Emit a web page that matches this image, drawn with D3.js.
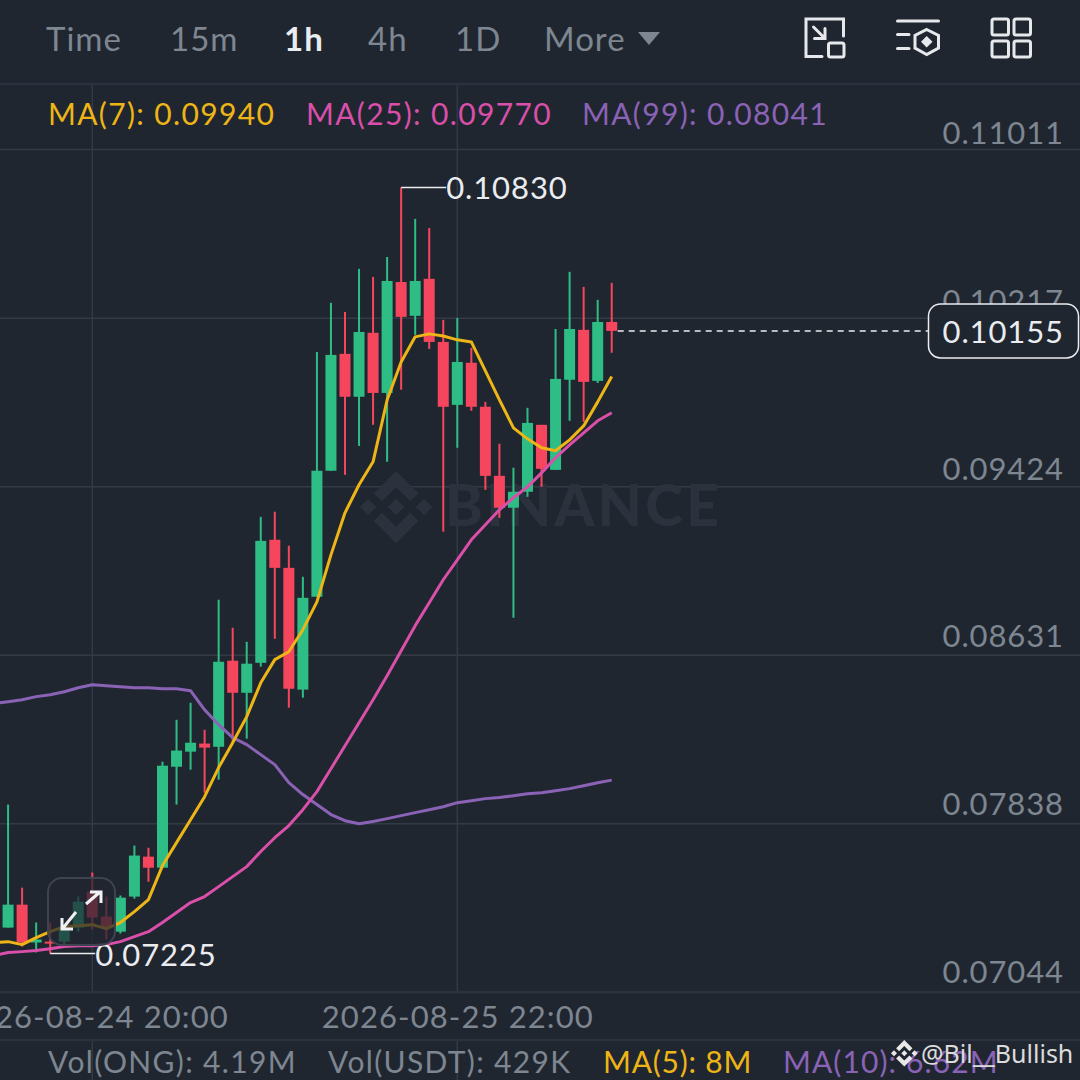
<!DOCTYPE html>
<html>
<head>
<meta charset="utf-8">
<script src="https://cdn.jsdelivr.net/npm/d3@7"></script>
<style>
  html, body { margin: 0; padding: 0; background: #202630; }
  svg { display: block; }
  text { font-family: Lato, "Open Sans", sans-serif; }
</style>
</head>
<body>
<div id="chart"></div>
<script>
// hourly candles, first one 2026-08-24 14:00 UTC
var candleOpen = [0.07347,0.07455,0.07277,0.07281,0.07281,0.07347,0.07516,0.07399,0.07328,0.07493,0.07681,0.07629,0.08104,0.08175,0.08213,0.08198,0.08603,0.08452,0.08593,0.09172,0.09040,0.08467,0.08904,0.09497,0.10047,0.09845,0.10146,0.09863,0.10385,0.10226,0.10400,0.10103,0.09807,0.10005,0.09798,0.09473,0.09323,0.09398,0.09713,0.09501,0.09925,0.10160,0.09920,0.10197];
var candleHigh = [0.07926,0.07535,0.07371,0.07371,0.07350,0.07493,0.07606,0.07493,0.07498,0.07733,0.07723,0.08128,0.08325,0.08405,0.08278,0.08890,0.08758,0.08692,0.09280,0.09304,0.09144,0.08998,0.10056,0.10287,0.10244,0.10447,0.10409,0.10503,0.10830,0.10682,0.10639,0.10207,0.10216,0.10075,0.09821,0.09624,0.09511,0.09793,0.09713,0.10164,0.10433,0.10362,0.10301,0.10381];
var candleLow = [0.07347,0.07258,0.07230,0.07225,0.07267,0.07328,0.07338,0.07291,0.07319,0.07483,0.07563,0.07629,0.07926,0.08090,0.07982,0.08043,0.08222,0.08236,0.08575,0.08706,0.08382,0.08429,0.08904,0.09497,0.09478,0.09614,0.09713,0.09539,0.09878,0.10136,0.10070,0.09210,0.09605,0.09779,0.09407,0.09275,0.08805,0.09374,0.09421,0.09501,0.09732,0.09727,0.09910,0.10052];
var candleClose = [0.07455,0.07277,0.07291,0.07272,0.07347,0.07469,0.07394,0.07347,0.07488,0.07686,0.07629,0.08109,0.08180,0.08217,0.08194,0.08598,0.08452,0.08589,0.09167,0.09040,0.08471,0.08899,0.09497,0.10042,0.09845,0.10150,0.09863,0.10390,0.10221,0.10390,0.10103,0.09798,0.10009,0.09798,0.09473,0.09323,0.09398,0.09722,0.09506,0.09929,0.10164,0.09915,0.10197,0.10155];

// moving averages start one hour before the first candle, so they reach the left edge
var ma7 = [0.07276,0.07281,0.07267,0.07300,0.07328,0.07352,0.07356,0.07361,0.07342,0.07371,0.07422,0.07479,0.07639,0.07747,0.07855,0.07963,0.08100,0.08217,0.08340,0.08499,0.08608,0.08645,0.08749,0.08880,0.09101,0.09299,0.09431,0.09539,0.09830,0.10009,0.10127,0.10141,0.10131,0.10113,0.10103,0.09967,0.09830,0.09699,0.09647,0.09605,0.09591,0.09642,0.09708,0.09821,0.09940];
var ma25 = [0.07215,0.07230,0.07234,0.07239,0.07248,0.07258,0.07262,0.07262,0.07267,0.07281,0.07305,0.07328,0.07371,0.07418,0.07465,0.07493,0.07540,0.07587,0.07634,0.07705,0.07770,0.07827,0.07902,0.07987,0.08095,0.08203,0.08311,0.08419,0.08532,0.08650,0.08768,0.08876,0.08984,0.09078,0.09172,0.09243,0.09313,0.09370,0.09421,0.09487,0.09558,0.09619,0.09675,0.09732,0.09770];
var ma99 = [0.08401,0.08410,0.08419,0.08434,0.08443,0.08457,0.08476,0.08490,0.08485,0.08481,0.08476,0.08476,0.08471,0.08471,0.08462,0.08372,0.08302,0.08241,0.08208,0.08161,0.08114,0.08029,0.07973,0.07926,0.07879,0.07850,0.07836,0.07846,0.07860,0.07874,0.07888,0.07902,0.07916,0.07935,0.07944,0.07954,0.07959,0.07968,0.07977,0.07982,0.07991,0.08001,0.08015,0.08029,0.08041];

var priceTicks = [0.11011, 0.10217, 0.09424, 0.08631, 0.07838, 0.07044];
var timeTicks = [new Date(Date.UTC(2026, 7, 24, 20)), new Date(Date.UTC(2026, 7, 25, 22))];
var intervals = ["Time", "15m", "1h", "4h", "1D", "More"];
var lastPrice = 0.10155;

var svgWidth = 1080;
var svgHeight = 1080;
var chartTop = 84;
var chartBottom = 992;

var green = "#2ebd85";
var red = "#f6465d";
var gold = "#eeb516";
var pink = "#d94fa9";
var purple = "#8a62b6";
var grey = "#7d8691";
var gridColor = "#333a45";
var bg = "#202630";

var svg = d3.select("#chart")
  .append("svg")
  .attr("width", svgWidth)
  .attr("height", svgHeight);

svg.append("rect").attr("width", svgWidth).attr("height", svgHeight).attr("fill", bg);

var t0 = new Date(Date.UTC(2026, 7, 24, 13));
var hours = ma7.map(function(d, i) { return d3.utcHour.offset(t0, i); });

var candles = candleOpen.map(function(d, i) {
  return { time: hours[i + 1], open: d, high: candleHigh[i], low: candleLow[i], close: candleClose[i] };
});

var x = d3.scaleUtc()
  .domain(timeTicks)
  .range([92.3, 457.3]);

var y = d3.scaleLinear()
  .domain([0.07044, 0.11011])
  .range([chartBottom, 149]);

// price labels drift a little from their gridlines in the app
var labelY = d3.scaleLinear()
  .domain([0.07044, 0.11011])
  .range([983, 144]);

// grid
var yAxis = d3.axisRight(y)
  .tickValues(priceTicks)
  .tickFormat(d3.format(".5f"))
  .tickSize(svgWidth);

var yAxisGroup = svg.append("g").call(yAxis);
yAxisGroup.select(".domain").remove();
yAxisGroup.selectAll("line").attr("stroke", gridColor).attr("stroke-width", 1.5);
yAxisGroup.selectAll("text").remove();

var xAxis = d3.axisBottom(x)
  .tickValues(timeTicks)
  .tickFormat(d3.utcFormat("%Y-%m-%d %H:%M"))
  .tickSize(0);

var xAxisGroup = svg.append("g")
  .attr("transform", "translate(0," + chartBottom + ")")
  .call(xAxis);
xAxisGroup.select(".domain").remove();
xAxisGroup.selectAll("text")
  .attr("y", 36)
  .attr("dy", 0)
  .attr("fill", grey)
  .attr("font-size", 31)
  .attr("letter-spacing", 1.1)
  .attr("font-family", "Lato");

timeTicks.forEach(function(t) {
  svg.append("line").attr("x1", x(t)).attr("x2", x(t)).attr("y1", chartTop).attr("y2", chartBottom)
    .attr("stroke", gridColor).attr("stroke-width", 1.5);
  svg.append("line").attr("x1", x(t)).attr("x2", x(t)).attr("y1", 1040).attr("y2", svgHeight)
    .attr("stroke", gridColor).attr("stroke-width", 1.5);
});

// separators
[84, 1040].forEach(function(s) {
  svg.append("line").attr("x1", 0).attr("x2", svgWidth).attr("y1", s).attr("y2", s)
    .attr("stroke", "#2b323d").attr("stroke-width", 2.5);
});
svg.append("line").attr("x1", 0).attr("x2", svgWidth).attr("y1", chartBottom).attr("y2", chartBottom)
  .attr("stroke", "#2b323d").attr("stroke-width", 2.5);

// watermark
var logoPath = "M38.73 53.2l24.59-24.58 24.6 24.6 14.3-14.31L63.32 0 24.43 38.9zM0 63.31l14.3-14.31 14.31 14.31-14.31 14.3zM38.73 73.41L63.32 98l24.6-24.6 14.31 14.29-38.9 38.91-38.91-38.88-.02-.02zM98 63.31l14.3-14.3 14.31 14.3-14.31 14.31zM77.83 63.3L63.32 48.78 52.59 59.51l-1.24 1.23-2.54 2.54 14.51 14.5 14.51-14.47z";

svg.append("path")
  .attr("d", logoPath)
  .attr("transform", "translate(360,471) scale(0.57)")
  .attr("fill", "#2b323d");

svg.append("text")
  .attr("x", 445)
  .attr("y", 526)
  .attr("font-size", 57)
  .attr("font-weight", 900)
  .attr("letter-spacing", 3.4)
  .attr("fill", "#2b323d")
  .text("BINANCE");

// candles
var candle = svg.append("g").selectAll("g")
  .data(candles)
  .enter()
  .append("g");

candle.append("rect")
  .attr("x", function(d) { return x(d.time) - 1; })
  .attr("y", function(d) { return y(d.high); })
  .attr("width", 2)
  .attr("height", function(d) { return y(d.low) - y(d.high); })
  .attr("fill", function(d) { return d.close >= d.open ? green : red; });

candle.append("rect")
  .attr("x", function(d) { return x(d.time) - 5.5; })
  .attr("y", function(d) { return y(Math.max(d.open, d.close)); })
  .attr("width", 11)
  .attr("height", function(d) { return Math.max(2, Math.abs(y(d.open) - y(d.close))); })
  .attr("fill", function(d) { return d.close >= d.open ? green : red; });

// moving averages
var line = d3.line()
  .x(function(d, i) { return x(hours[i]); })
  .y(function(d) { return y(d); });

[[ma99, purple], [ma25, pink], [ma7, gold]].forEach(function(m) {
  svg.append("path")
    .datum(m[0])
    .attr("d", line)
    .attr("fill", "none")
    .attr("stroke", m[1])
    .attr("stroke-width", 3)
    .attr("stroke-linejoin", "round");
});

// high and low markers
var highest = candles[d3.maxIndex(candles, function(d) { return d.high; })];
var lowest = candles[d3.minIndex(candles, function(d) { return d.low; })];

svg.append("path")
  .attr("d", "M" + x(highest.time) + "," + y(highest.high) + "H" + (x(highest.time) + 45))
  .attr("stroke", "#eaecef").attr("stroke-width", 1.5).attr("fill", "none");
svg.append("text")
  .attr("x", x(highest.time) + 45)
  .attr("y", y(highest.high) + 12)
  .attr("font-size", 31)
  .attr("letter-spacing", 0.9)
  .attr("fill", "#eaecef")
  .text(highest.high.toFixed(5));

svg.append("path")
  .attr("d", "M" + x(lowest.time) + "," + y(lowest.low) + "H" + (x(lowest.time) + 45))
  .attr("stroke", "#eaecef").attr("stroke-width", 1.5).attr("fill", "none");
svg.append("text")
  .attr("x", x(lowest.time) + 45)
  .attr("y", y(lowest.low) + 12)
  .attr("font-size", 31)
  .attr("letter-spacing", 0.9)
  .attr("fill", "#eaecef")
  .text(lowest.low.toFixed(5));

// price labels sit above their gridlines
svg.selectAll(".priceLabel")
  .data(priceTicks)
  .enter()
  .append("text")
  .attr("class", "priceLabel")
  .attr("x", 1064)
  .attr("y", function(d) { return labelY(d); })
  .attr("text-anchor", "end")
  .attr("font-size", 31)
  .attr("letter-spacing", 0.9)
  .attr("fill", grey)
  .text(d3.format(".5f"));

// last price
svg.append("line")
  .attr("x1", x(candles[candles.length - 1].time) + 6)
  .attr("x2", 928)
  .attr("y1", y(lastPrice))
  .attr("y2", y(lastPrice))
  .attr("stroke", "#eaecef")
  .attr("stroke-width", 1.5)
  .attr("stroke-dasharray", "6,5");

svg.append("rect")
  .attr("x", 928.5)
  .attr("y", y(lastPrice) - 27)
  .attr("width", 150)
  .attr("height", 54)
  .attr("rx", 12)
  .attr("fill", bg)
  .attr("stroke", "#eaecef")
  .attr("stroke-width", 1.5);

svg.append("text")
  .attr("x", 1064)
  .attr("y", y(lastPrice) + 12)
  .attr("text-anchor", "end")
  .attr("font-size", 31)
  .attr("letter-spacing", 0.9)
  .attr("fill", "#eaecef")
  .text(lastPrice.toFixed(5));

// expand button over the chart
svg.append("rect")
  .attr("x", 48).attr("y", 878).attr("width", 67).attr("height", 67).attr("rx", 14)
  .attr("fill", bg).attr("fill-opacity", 0.72)
  .attr("stroke", "#3d4450").attr("stroke-width", 2);
svg.append("path")
  .attr("d", "M86,904L100,892M90,892H101V903M76,912L63,928M62,918V929H73")
  .attr("fill", "none").attr("stroke", "#f0f1f3").attr("stroke-width", 3);

// toolbar
var intervalX = [46, 170, 284, 368, 455, 544];
svg.selectAll(".interval")
  .data(intervals)
  .enter()
  .append("text")
  .attr("class", "interval")
  .attr("x", function(d, i) { return intervalX[i]; })
  .attr("y", 51)
  .attr("font-size", 33)
  .attr("letter-spacing", 1)
  .attr("font-weight", function(d) { return d === "1h" ? 700 : 400; })
  .attr("fill", function(d) { return d === "1h" ? "#eaecef" : grey; })
  .text(function(d) { return d; });

svg.append("path").attr("d", "M638,32H660L649,45Z").attr("fill", grey);

var icons = svg.append("g").attr("fill", "none").attr("stroke", "#e6e8ec").attr("stroke-width", 3).attr("stroke-linecap", "round");
icons.append("path").attr("d", "M822,56.5H806V19H843.5V36M813.5,27L825,38.5M825,28.5V38.5H814.5");
icons.append("rect").attr("x", 828.5).attr("y", 43).attr("width", 15.5).attr("height", 14).attr("rx", 2);
icons.append("path").attr("d", "M897.5,21H938.5M897.5,34.5H909M897.5,48.5H909M926.7,29.5L938.5,35.5V48L926.7,54.5L915,48V35.5Z");
svg.append("path").attr("d", "M926.7,36L932.5,41.7L926.7,47.5L921,41.7Z").attr("fill", "#e6e8ec");
[[992, 19], [1014, 19], [992, 41], [1014, 41]].forEach(function(p) {
  icons.append("rect").attr("x", p[0]).attr("y", p[1]).attr("width", 16.5).attr("height", 16).attr("rx", 2);
});

// legend rows
function label(str, lx, ly, color, spacing) {
  svg.append("text")
    .attr("x", lx).attr("y", ly)
    .attr("font-size", 30)
    .attr("letter-spacing", spacing)
    .attr("fill", color)
    .text(str);
}

label("MA(7): 0.09940", 48, 125, gold, 1.35);
label("MA(25): 0.09770", 306, 125, pink, 1.35);
label("MA(99): 0.08041", 582, 125, purple, 1.35);

label("Vol(ONG): 4.19M", 48, 1073, grey, 1.35);
label("Vol(USDT): 429K", 328, 1073, grey, 1.35);
label("MA(5): 8M", 603, 1073, gold, 0.8);
label("MA(10): 6.62M", 783, 1073, purple, 1.1);

// post watermark
svg.append("path")
  .attr("d", logoPath)
  .attr("transform", "translate(891,1040) scale(0.21)")
  .attr("fill", "#e8e8e8");
svg.append("text")
  .attr("x", 921)
  .attr("y", 1063)
  .attr("font-size", 25)
  .attr("fill", "#dcdcdc")
  .attr("style", "font-family:'Noto Sans'")
  .text("@Bil__Bullish");
</script>
</body>
</html>
